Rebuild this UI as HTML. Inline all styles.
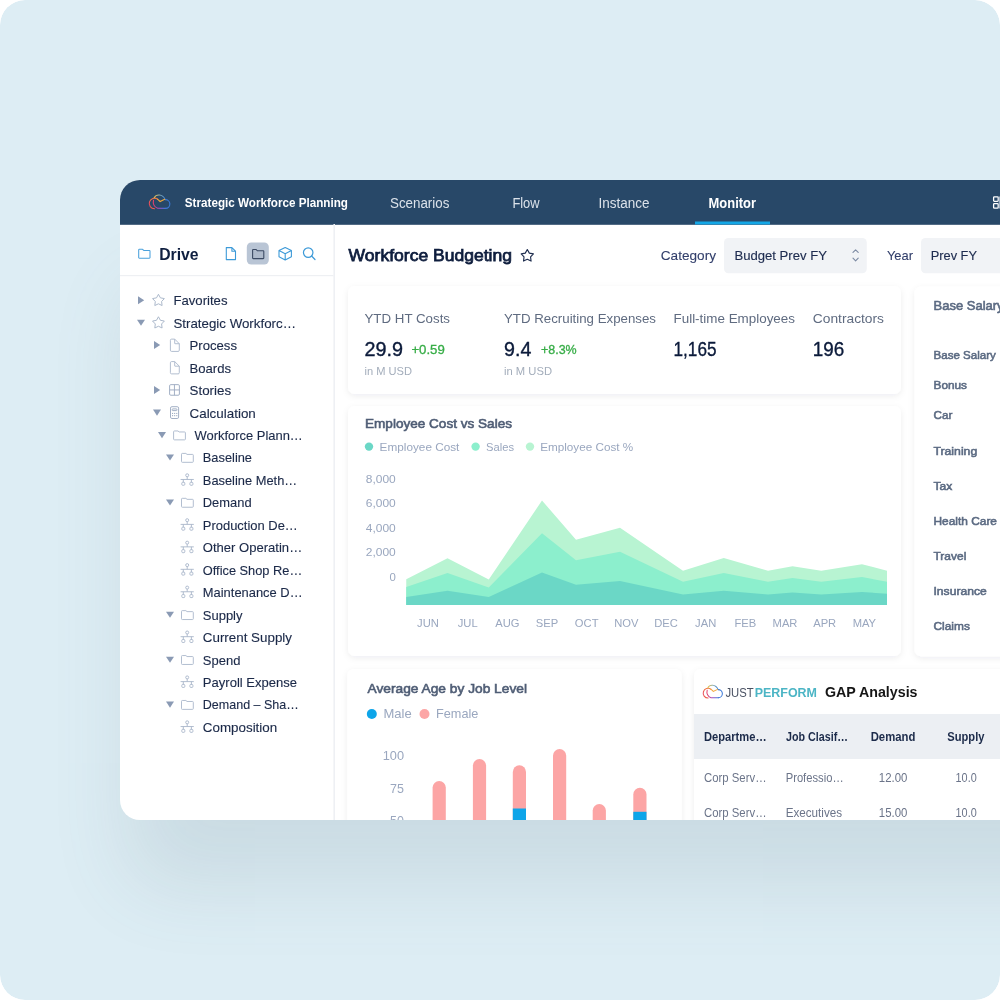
<!DOCTYPE html>
<html><head><meta charset="utf-8"><title>Workforce Budgeting</title>
<style>
html,body{margin:0;padding:0;background:#ffffff;width:1000px;height:1000px;overflow:hidden;}
svg{display:block;font-family:"Liberation Sans", Arial, sans-serif;will-change:transform;}
</style></head><body>
<svg width="1000" height="1000" viewBox="0 0 1000 1000">
<defs>
<clipPath id="cardclip"><rect x="120" y="180" width="1000" height="640" rx="20"/></clipPath>
<clipPath id="frameclip"><rect x="0" y="0" width="1000" height="1000" rx="25"/></clipPath>
<filter id="bigsh" x="-20%" y="-20%" width="140%" height="160%"><feGaussianBlur stdDeviation="40"/></filter>
<filter id="csh" x="-10%" y="-10%" width="120%" height="130%"><feDropShadow dx="0" dy="2" stdDeviation="3" flood-color="#202838" flood-opacity="0.07"/></filter>
<linearGradient id="lg1" x1="0" y1="0" x2="0" y2="1"><stop offset="0" stop-color="#f07a45"/><stop offset="0.5" stop-color="#e84a5f"/><stop offset="1" stop-color="#f0604a"/></linearGradient>
<linearGradient id="lg2" x1="0" y1="0" x2="1" y2="0"><stop offset="0" stop-color="#e8406a"/><stop offset="0.5" stop-color="#9b4fc4"/><stop offset="1" stop-color="#3a78d8"/></linearGradient>
<linearGradient id="lg3" x1="0" y1="0" x2="1" y2="0"><stop offset="0" stop-color="#e8c04a"/><stop offset="0.5" stop-color="#8fb0b0"/><stop offset="1" stop-color="#3a80d8"/></linearGradient>
</defs>
<g clip-path="url(#frameclip)">
<rect x="0" y="0" width="1000" height="1000" rx="25" fill="#ddedf4"/>
<rect x="128" y="285" width="1000" height="600" rx="30" fill="#566e7c" opacity="0.135" filter="url(#bigsh)"/>
<g clip-path="url(#cardclip)">
<rect x="120" y="180" width="1000" height="640" fill="#ffffff"/>
<rect x="335" y="224" width="700" height="600" fill="#ffffff"/>
<rect x="120" y="180" width="900" height="44.8" fill="#284868"/>
<g transform="translate(0,0) scale(1.0)" fill="none" stroke-width="1.1" stroke-linecap="round">
<path d="M157.51,199.15 A5.25,5.25 0 1 0 154.5,208.7" stroke="url(#lg1)"/>
<path d="M153.5,200.3 C152.6,203.6 154.2,207.2 157.6,208.3 L165.6,208.4" stroke="url(#lg2)"/>
<path d="M165.6,208.4 A4.4,4.4 0 0 0 165.3,199.6" stroke="#3a78d8"/>
<path d="M154.3,197.6 C156,194.1 162.6,193.4 165.3,199.6" stroke="url(#lg3)"/>
<path d="M157.51,199.15 L160.1,201.5 L164.7,199.3" stroke="#f2a83a"/>
</g>
<text x="184.8" y="206.8" font-size="13" fill="#ffffff" font-weight="700" textLength="163.2" lengthAdjust="spacingAndGlyphs">Strategic Workforce Planning</text>
<text x="390" y="208.2" font-size="13.8" fill="#dbe2ea" textLength="59.4" lengthAdjust="spacingAndGlyphs">Scenarios</text>
<text x="512.4" y="208.2" font-size="13.8" fill="#dbe2ea" textLength="27.2" lengthAdjust="spacingAndGlyphs">Flow</text>
<text x="598.4" y="208.2" font-size="13.8" fill="#dbe2ea" textLength="51" lengthAdjust="spacingAndGlyphs">Instance</text>
<text x="708.6" y="208.2" font-size="13.8" fill="#ffffff" font-weight="700" textLength="47.4" lengthAdjust="spacingAndGlyphs">Monitor</text>
<rect x="695" y="221.5" width="75" height="3" fill="#14a7e6"/>
<g fill="none" stroke="#ffffff" stroke-width="1.3"><rect x="993.6" y="196.8" width="4.6" height="4.6" rx="0.8"/><rect x="993.6" y="203.6" width="4.6" height="4.6" rx="0.8"/></g>
<rect x="998.8" y="196.5" width="1.2" height="12" fill="#9fb0c2"/>
<rect x="333.4" y="224" width="1.6" height="600" fill="#eef0f4"/>
<rect x="120" y="275" width="213.4" height="1.2" fill="#eef0f3"/>
<path d="M138.7,250 a0.7,0.7 0 0 1 0.7,-0.7 h3.2 l1.1,1.1 h5.6 a0.7,0.7 0 0 1 0.7,0.7 v6.4 a0.7,0.7 0 0 1 -0.7,0.7 h-9.9 a0.7,0.7 0 0 1 -0.7,-0.7 z" fill="none" stroke="#4aa1dc" stroke-width="1.05" stroke-linejoin="round"/>
<text x="159.2" y="259.9" font-size="15.6" fill="#0f1f40" font-weight="700" textLength="39.4" lengthAdjust="spacingAndGlyphs">Drive</text>
<path d="M226.3,247.6 h5.6 l3.6,3.6 v8.4 h-9.2 z M231.9,247.6 v3.6 h3.6" fill="none" stroke="#3d9ad8" stroke-width="1.1" stroke-linejoin="round"/>
<rect x="246.8" y="242.4" width="22" height="22.2" rx="4.5" fill="#b9c5d5"/>
<path d="M252.6,250.1 a0.6,0.6 0 0 1 0.6,-0.6 h3 l1.2,1.3 h5.8 a0.6,0.6 0 0 1 0.6,0.6 v6.6 a0.6,0.6 0 0 1 -0.6,0.6 h-10 a0.6,0.6 0 0 1 -0.6,-0.6 z" fill="#aebacb" stroke="#3b4a63" stroke-width="1.1" stroke-linejoin="round"/>
<g fill="none" stroke="#3d9ad8" stroke-width="1.1" stroke-linejoin="round"><path d="M285.2,247.5 l6.2,3.1 v6.2 l-6.2,3.1 l-6.2,-3.1 v-6.2 z M279,250.6 l6.2,3.1 l6.2,-3.1 M285.2,253.7 v6.2"/></g>
<g fill="none" stroke="#3d9ad8" stroke-width="1.2"><circle cx="308.2" cy="252.6" r="4.75"/><path d="M311.6,256 l3.4,3.5" stroke-linecap="round"/></g>
<path d="M138,296.2 L144.2,300.2 L138,304.2 z" fill="#8a9ab4"/>
<polygon points="158.45,294.30 160.39,297.83 164.35,298.58 161.59,301.52 162.09,305.52 158.45,303.80 154.81,305.52 155.31,301.52 152.55,298.58 156.51,297.83" fill="none" stroke="#a8b5c8" stroke-width="0.95" stroke-linejoin="round"/>
<text x="173.4" y="305.2" font-size="13" fill="#1b2948" stroke="#1b2948" stroke-width="0.12" textLength="54.1" lengthAdjust="spacingAndGlyphs">Favorites</text>
<path d="M137,319.76 L145,319.76 L141,325.85999999999996 z" fill="#8a9ab4"/>
<polygon points="158.45,316.76 160.39,320.29 164.35,321.04 161.59,323.98 162.09,327.98 158.45,326.26 154.81,327.98 155.31,323.98 152.55,321.04 156.51,320.29" fill="none" stroke="#a8b5c8" stroke-width="0.95" stroke-linejoin="round"/>
<text x="173.4" y="327.66" font-size="13" fill="#1b2948" stroke="#1b2948" stroke-width="0.12" textLength="122.6" lengthAdjust="spacingAndGlyphs">Strategic Workforc…</text>
<path d="M154,341.12 L160.2,345.12 L154,349.12 z" fill="#8a9ab4"/>
<path d="M171.6,339.12 h3.10 l4.6,4.6 v6.50 a1.2,1.2 0 0 1 -1.2,1.2 h-6.50 a1.2,1.2 0 0 1 -1.2,-1.2 v-9.90 a1.2,1.2 0 0 1 1.2,-1.2 z M174.70,339.12 v4.3 a0.3,0.3 0 0 0 0.3,0.3 h4.3" fill="none" stroke="#aebbcd" stroke-width="0.95" stroke-linejoin="round"/>
<text x="189.5" y="350.12" font-size="13" fill="#1b2948" stroke="#1b2948" stroke-width="0.12" textLength="47.5" lengthAdjust="spacingAndGlyphs">Process</text>
<path d="M171.6,361.58 h3.10 l4.6,4.6 v6.50 a1.2,1.2 0 0 1 -1.2,1.2 h-6.50 a1.2,1.2 0 0 1 -1.2,-1.2 v-9.90 a1.2,1.2 0 0 1 1.2,-1.2 z M174.70,361.58 v4.3 a0.3,0.3 0 0 0 0.3,0.3 h4.3" fill="none" stroke="#aebbcd" stroke-width="0.95" stroke-linejoin="round"/>
<text x="189.5" y="372.58" font-size="13" fill="#1b2948" stroke="#1b2948" stroke-width="0.12" textLength="41.6" lengthAdjust="spacingAndGlyphs">Boards</text>
<path d="M154,386.03999999999996 L160.2,390.03999999999996 L154,394.03999999999996 z" fill="#8a9ab4"/>
<g fill="none" stroke="#9eacc2" stroke-width="0.95"><rect x="169.6" y="384.64" width="9.8" height="10.6" rx="1.2"/><path d="M174.45,384.64 v10.6 M169.6,389.94 h9.8"/></g>
<text x="189.5" y="395.04" font-size="13" fill="#1b2948" stroke="#1b2948" stroke-width="0.12" textLength="41.6" lengthAdjust="spacingAndGlyphs">Stories</text>
<path d="M153,409.6 L161,409.6 L157,415.7 z" fill="#8a9ab4"/>
<g fill="none" stroke="#9eacc2" stroke-width="0.95"><rect x="170.5" y="406.7" width="8.1" height="11.8" rx="1.4"/><rect x="172.2" y="408.9" width="4.7" height="1.7" rx="0.4"/></g>
<rect x="172.00" y="412.90" width="1.1" height="1.1" fill="#9eacc2"/>
<rect x="174.10" y="412.90" width="1.1" height="1.1" fill="#9eacc2"/>
<rect x="176.20" y="412.90" width="1.1" height="1.1" fill="#9eacc2"/>
<rect x="172.00" y="415.10" width="1.1" height="1.1" fill="#9eacc2"/>
<rect x="174.10" y="415.10" width="1.1" height="1.1" fill="#9eacc2"/>
<rect x="176.20" y="415.10" width="1.1" height="1.1" fill="#9eacc2"/>
<text x="189.5" y="417.5" font-size="13" fill="#1b2948" stroke="#1b2948" stroke-width="0.12" textLength="66.3" lengthAdjust="spacingAndGlyphs">Calculation</text>
<path d="M158,432.06 L166,432.06 L162,438.15999999999997 z" fill="#8a9ab4"/>
<path d="M173.6,431.76 a0.8,0.8 0 0 1 0.8,-0.8 h3.6 l1.1,1 h5.5 a0.8,0.8 0 0 1 0.8,0.8 v6.3 a0.8,0.8 0 0 1 -0.8,0.8 h-10.2 a0.8,0.8 0 0 1 -0.8,-0.8 z" fill="none" stroke="#aebbcd" stroke-width="0.95" stroke-linejoin="round"/>
<text x="194.5" y="439.96" font-size="13" fill="#1b2948" stroke="#1b2948" stroke-width="0.12" textLength="108.3" lengthAdjust="spacingAndGlyphs">Workforce Plann…</text>
<path d="M166,454.52 L174,454.52 L170,460.61999999999995 z" fill="#8a9ab4"/>
<path d="M181.5,454.21999999999997 a0.8,0.8 0 0 1 0.8,-0.8 h3.6 l1.1,1 h5.5 a0.8,0.8 0 0 1 0.8,0.8 v6.3 a0.8,0.8 0 0 1 -0.8,0.8 h-10.2 a0.8,0.8 0 0 1 -0.8,-0.8 z" fill="none" stroke="#aebbcd" stroke-width="0.95" stroke-linejoin="round"/>
<text x="202.8" y="462.42" font-size="13" fill="#1b2948" stroke="#1b2948" stroke-width="0.12" textLength="49.2" lengthAdjust="spacingAndGlyphs">Baseline</text>
<g fill="none" stroke="#a8b5ca" stroke-width="0.9"><circle cx="187.2" cy="475.28" r="1.5"/><path d="M187.2,476.78 V479.48 M180.6,479.48 H193.79999999999998 M183.29999999999998,479.48 V482.28 M191.39999999999998,479.48 V482.28"/><rect x="181.80" y="482.28" width="3" height="3" rx="0.9"/><rect x="189.90" y="482.28" width="3" height="3" rx="0.9"/></g>
<text x="202.8" y="484.88" font-size="13" fill="#1b2948" stroke="#1b2948" stroke-width="0.12" textLength="94.4" lengthAdjust="spacingAndGlyphs">Baseline Meth…</text>
<path d="M166,499.44000000000005 L174,499.44000000000005 L170,505.54 z" fill="#8a9ab4"/>
<path d="M181.5,499.14000000000004 a0.8,0.8 0 0 1 0.8,-0.8 h3.6 l1.1,1 h5.5 a0.8,0.8 0 0 1 0.8,0.8 v6.3 a0.8,0.8 0 0 1 -0.8,0.8 h-10.2 a0.8,0.8 0 0 1 -0.8,-0.8 z" fill="none" stroke="#aebbcd" stroke-width="0.95" stroke-linejoin="round"/>
<text x="202.8" y="507.34" font-size="13" fill="#1b2948" stroke="#1b2948" stroke-width="0.12" textLength="48.8" lengthAdjust="spacingAndGlyphs">Demand</text>
<g fill="none" stroke="#a8b5ca" stroke-width="0.9"><circle cx="187.2" cy="520.20" r="1.5"/><path d="M187.2,521.70 V524.40 M180.6,524.40 H193.79999999999998 M183.29999999999998,524.40 V527.20 M191.39999999999998,524.40 V527.20"/><rect x="181.80" y="527.20" width="3" height="3" rx="0.9"/><rect x="189.90" y="527.20" width="3" height="3" rx="0.9"/></g>
<text x="202.8" y="529.8" font-size="13" fill="#1b2948" stroke="#1b2948" stroke-width="0.12" textLength="95.0" lengthAdjust="spacingAndGlyphs">Production De…</text>
<g fill="none" stroke="#a8b5ca" stroke-width="0.9"><circle cx="187.2" cy="542.66" r="1.5"/><path d="M187.2,544.16 V546.86 M180.6,546.86 H193.79999999999998 M183.29999999999998,546.86 V549.66 M191.39999999999998,546.86 V549.66"/><rect x="181.80" y="549.66" width="3" height="3" rx="0.9"/><rect x="189.90" y="549.66" width="3" height="3" rx="0.9"/></g>
<text x="202.8" y="552.26" font-size="13" fill="#1b2948" stroke="#1b2948" stroke-width="0.12" textLength="99.4" lengthAdjust="spacingAndGlyphs">Other Operatin…</text>
<g fill="none" stroke="#a8b5ca" stroke-width="0.9"><circle cx="187.2" cy="565.12" r="1.5"/><path d="M187.2,566.62 V569.32 M180.6,569.32 H193.79999999999998 M183.29999999999998,569.32 V572.12 M191.39999999999998,569.32 V572.12"/><rect x="181.80" y="572.12" width="3" height="3" rx="0.9"/><rect x="189.90" y="572.12" width="3" height="3" rx="0.9"/></g>
<text x="202.8" y="574.72" font-size="13" fill="#1b2948" stroke="#1b2948" stroke-width="0.12" textLength="99.4" lengthAdjust="spacingAndGlyphs">Office Shop Re…</text>
<g fill="none" stroke="#a8b5ca" stroke-width="0.9"><circle cx="187.2" cy="587.58" r="1.5"/><path d="M187.2,589.08 V591.78 M180.6,591.78 H193.79999999999998 M183.29999999999998,591.78 V594.58 M191.39999999999998,591.78 V594.58"/><rect x="181.80" y="594.58" width="3" height="3" rx="0.9"/><rect x="189.90" y="594.58" width="3" height="3" rx="0.9"/></g>
<text x="202.8" y="597.18" font-size="13" fill="#1b2948" stroke="#1b2948" stroke-width="0.12" textLength="99.8" lengthAdjust="spacingAndGlyphs">Maintenance D…</text>
<path d="M166,611.74 L174,611.74 L170,617.84 z" fill="#8a9ab4"/>
<path d="M181.5,611.4399999999999 a0.8,0.8 0 0 1 0.8,-0.8 h3.6 l1.1,1 h5.5 a0.8,0.8 0 0 1 0.8,0.8 v6.3 a0.8,0.8 0 0 1 -0.8,0.8 h-10.2 a0.8,0.8 0 0 1 -0.8,-0.8 z" fill="none" stroke="#aebbcd" stroke-width="0.95" stroke-linejoin="round"/>
<text x="202.8" y="619.64" font-size="13" fill="#1b2948" stroke="#1b2948" stroke-width="0.12" textLength="39.7" lengthAdjust="spacingAndGlyphs">Supply</text>
<g fill="none" stroke="#a8b5ca" stroke-width="0.9"><circle cx="187.2" cy="632.50" r="1.5"/><path d="M187.2,634.00 V636.70 M180.6,636.70 H193.79999999999998 M183.29999999999998,636.70 V639.50 M191.39999999999998,636.70 V639.50"/><rect x="181.80" y="639.50" width="3" height="3" rx="0.9"/><rect x="189.90" y="639.50" width="3" height="3" rx="0.9"/></g>
<text x="202.8" y="642.1" font-size="13" fill="#1b2948" stroke="#1b2948" stroke-width="0.12" textLength="89.2" lengthAdjust="spacingAndGlyphs">Current Supply</text>
<path d="M166,656.66 L174,656.66 L170,662.76 z" fill="#8a9ab4"/>
<path d="M181.5,656.3599999999999 a0.8,0.8 0 0 1 0.8,-0.8 h3.6 l1.1,1 h5.5 a0.8,0.8 0 0 1 0.8,0.8 v6.3 a0.8,0.8 0 0 1 -0.8,0.8 h-10.2 a0.8,0.8 0 0 1 -0.8,-0.8 z" fill="none" stroke="#aebbcd" stroke-width="0.95" stroke-linejoin="round"/>
<text x="202.8" y="664.56" font-size="13" fill="#1b2948" stroke="#1b2948" stroke-width="0.12" textLength="37.6" lengthAdjust="spacingAndGlyphs">Spend</text>
<g fill="none" stroke="#a8b5ca" stroke-width="0.9"><circle cx="187.2" cy="677.42" r="1.5"/><path d="M187.2,678.92 V681.62 M180.6,681.62 H193.79999999999998 M183.29999999999998,681.62 V684.42 M191.39999999999998,681.62 V684.42"/><rect x="181.80" y="684.42" width="3" height="3" rx="0.9"/><rect x="189.90" y="684.42" width="3" height="3" rx="0.9"/></g>
<text x="202.8" y="687.02" font-size="13" fill="#1b2948" stroke="#1b2948" stroke-width="0.12" textLength="94.3" lengthAdjust="spacingAndGlyphs">Payroll Expense</text>
<path d="M166,701.58 L174,701.58 L170,707.6800000000001 z" fill="#8a9ab4"/>
<path d="M181.5,701.28 a0.8,0.8 0 0 1 0.8,-0.8 h3.6 l1.1,1 h5.5 a0.8,0.8 0 0 1 0.8,0.8 v6.3 a0.8,0.8 0 0 1 -0.8,0.8 h-10.2 a0.8,0.8 0 0 1 -0.8,-0.8 z" fill="none" stroke="#aebbcd" stroke-width="0.95" stroke-linejoin="round"/>
<text x="202.8" y="709.48" font-size="13" fill="#1b2948" stroke="#1b2948" stroke-width="0.12" textLength="96.0" lengthAdjust="spacingAndGlyphs">Demand – Sha…</text>
<g fill="none" stroke="#a8b5ca" stroke-width="0.9"><circle cx="187.2" cy="722.34" r="1.5"/><path d="M187.2,723.84 V726.54 M180.6,726.54 H193.79999999999998 M183.29999999999998,726.54 V729.34 M191.39999999999998,726.54 V729.34"/><rect x="181.80" y="729.34" width="3" height="3" rx="0.9"/><rect x="189.90" y="729.34" width="3" height="3" rx="0.9"/></g>
<text x="202.8" y="731.94" font-size="13" fill="#1b2948" stroke="#1b2948" stroke-width="0.12" textLength="74.4" lengthAdjust="spacingAndGlyphs">Composition</text>
<text x="348.6" y="261.4" font-size="16.5" fill="#0e1d3d" stroke="#0e1d3d" stroke-width="0.75" textLength="163.4" lengthAdjust="spacingAndGlyphs">Workforce Budgeting</text>
<polygon points="527.30,249.50 529.33,253.11 533.39,253.92 530.58,256.97 531.06,261.08 527.30,259.35 523.54,261.08 524.02,256.97 521.21,253.92 525.27,253.11" fill="none" stroke="#1f2e4f" stroke-width="1.15" stroke-linejoin="round"/>
<text x="660.8" y="260" font-size="13.5" fill="#323f6b" stroke="#323f6b" stroke-width="0.1" textLength="55.2" lengthAdjust="spacingAndGlyphs">Category</text>
<rect x="724" y="238" width="142.8" height="35.2" rx="4.5" fill="#f1f3f6"/>
<text x="734.4" y="260" font-size="13.5" fill="#1d2b4f" stroke="#1d2b4f" stroke-width="0.15" textLength="92.6" lengthAdjust="spacingAndGlyphs">Budget Prev FY</text>
<path d="M853,252.4 l2.6,-2.6 l2.6,2.6 M853,258.2 l2.6,2.6 l2.6,-2.6" fill="none" stroke="#7c8aa3" stroke-width="1.1" stroke-linecap="round" stroke-linejoin="round"/>
<text x="886.9" y="259.7" font-size="13.5" fill="#323f6b" stroke="#323f6b" stroke-width="0.1" textLength="26.1" lengthAdjust="spacingAndGlyphs">Year</text>
<rect x="921" y="238" width="120" height="35.2" rx="4.5" fill="#f1f3f6"/>
<text x="930.7" y="260" font-size="13.5" fill="#1d2b4f" stroke="#1d2b4f" stroke-width="0.15" textLength="46.3" lengthAdjust="spacingAndGlyphs">Prev FY</text>
<rect x="348" y="286" width="553" height="108" rx="7" fill="#ffffff" filter="url(#csh)"/>
<rect x="914.4" y="286.4" width="200" height="370" rx="7" fill="#ffffff" filter="url(#csh)"/>
<rect x="348" y="406" width="553" height="250" rx="7" fill="#ffffff" filter="url(#csh)"/>
<rect x="347.2" y="669" width="334.6" height="200" rx="7" fill="#ffffff" filter="url(#csh)"/>
<rect x="694" y="669" width="400" height="200" rx="7" fill="#ffffff" filter="url(#csh)"/>
<text x="364.5" y="323.2" font-size="13.5" fill="#5f6b80" textLength="85.5" lengthAdjust="spacingAndGlyphs">YTD HT Costs</text>
<text x="504" y="323.2" font-size="13.5" fill="#5f6b80" textLength="152" lengthAdjust="spacingAndGlyphs">YTD Recruiting Expenses</text>
<text x="673.5" y="323.2" font-size="13.5" fill="#5f6b80" textLength="121.5" lengthAdjust="spacingAndGlyphs">Full-time Employees</text>
<text x="812.8" y="323.2" font-size="13.5" fill="#5f6b80" textLength="71.2" lengthAdjust="spacingAndGlyphs">Contractors</text>
<text x="364.5" y="356.1" font-size="19.5" fill="#0b1a3a" stroke="#0b1a3a" stroke-width="0.35" textLength="38.5" lengthAdjust="spacingAndGlyphs">29.9</text>
<text x="411.4" y="354.4" font-size="12.3" fill="#37ad47" stroke="#37ad47" stroke-width="0.3" textLength="33.4" lengthAdjust="spacingAndGlyphs">+0.59</text>
<text x="504" y="356.1" font-size="19.5" fill="#0b1a3a" stroke="#0b1a3a" stroke-width="0.35" textLength="27.3" lengthAdjust="spacingAndGlyphs">9.4</text>
<text x="541" y="354.4" font-size="12.3" fill="#37ad47" stroke="#37ad47" stroke-width="0.3" textLength="35.7" lengthAdjust="spacingAndGlyphs">+8.3%</text>
<text x="673.5" y="356.1" font-size="19.5" fill="#0b1a3a" stroke="#0b1a3a" stroke-width="0.35" textLength="43" lengthAdjust="spacingAndGlyphs">1,165</text>
<text x="812.8" y="356.1" font-size="19.5" fill="#0b1a3a" stroke="#0b1a3a" stroke-width="0.35" textLength="31.5" lengthAdjust="spacingAndGlyphs">196</text>
<text x="364.5" y="375" font-size="11" fill="#a3adbb" textLength="47.5" lengthAdjust="spacingAndGlyphs">in M USD</text>
<text x="504" y="375" font-size="11" fill="#a3adbb" textLength="48" lengthAdjust="spacingAndGlyphs">in M USD</text>
<text x="933.6" y="309.6" font-size="13" fill="#5b6a82" stroke="#5b6a82" stroke-width="0.6" textLength="70" lengthAdjust="spacingAndGlyphs">Base Salary</text>
<text x="933.5" y="358.6" font-size="11.2" fill="#5b6a82" stroke="#5b6a82" stroke-width="0.55" textLength="62.4" lengthAdjust="spacingAndGlyphs">Base Salary</text>
<text x="933.5" y="389.2" font-size="11.2" fill="#5b6a82" stroke="#5b6a82" stroke-width="0.55" textLength="33.5" lengthAdjust="spacingAndGlyphs">Bonus</text>
<text x="933.5" y="419.3" font-size="11.2" fill="#5b6a82" stroke="#5b6a82" stroke-width="0.55" textLength="18.8" lengthAdjust="spacingAndGlyphs">Car</text>
<text x="933.5" y="455" font-size="11.2" fill="#5b6a82" stroke="#5b6a82" stroke-width="0.55" textLength="43.7" lengthAdjust="spacingAndGlyphs">Training</text>
<text x="933.5" y="489.9" font-size="11.2" fill="#5b6a82" stroke="#5b6a82" stroke-width="0.55" textLength="18.8" lengthAdjust="spacingAndGlyphs">Tax</text>
<text x="933.5" y="525" font-size="11.2" fill="#5b6a82" stroke="#5b6a82" stroke-width="0.55" textLength="63.5" lengthAdjust="spacingAndGlyphs">Health Care</text>
<text x="933.5" y="560" font-size="11.2" fill="#5b6a82" stroke="#5b6a82" stroke-width="0.55" textLength="32.8" lengthAdjust="spacingAndGlyphs">Travel</text>
<text x="933.5" y="595" font-size="11.2" fill="#5b6a82" stroke="#5b6a82" stroke-width="0.55" textLength="53.2" lengthAdjust="spacingAndGlyphs">Insurance</text>
<text x="933.5" y="630" font-size="11.2" fill="#5b6a82" stroke="#5b6a82" stroke-width="0.55" textLength="36.4" lengthAdjust="spacingAndGlyphs">Claims</text>
<text x="365" y="428.1" font-size="13.4" fill="#4f5d75" stroke="#4f5d75" stroke-width="0.6" textLength="147" lengthAdjust="spacingAndGlyphs">Employee Cost vs Sales</text>
<circle cx="369" cy="446.6" r="4.2" fill="#6bd7c6"/>
<text x="379.6" y="451" font-size="11.5" fill="#9aa7bf" textLength="79.8" lengthAdjust="spacingAndGlyphs">Employee Cost</text>
<circle cx="475.6" cy="446.6" r="4.2" fill="#8cefcd"/>
<text x="486" y="451" font-size="11.5" fill="#9aa7bf" textLength="28" lengthAdjust="spacingAndGlyphs">Sales</text>
<circle cx="530" cy="446.6" r="4.2" fill="#b8f4d2"/>
<text x="540.2" y="451" font-size="11.5" fill="#9aa7bf" textLength="93" lengthAdjust="spacingAndGlyphs">Employee Cost %</text>
<text x="395.8" y="482.5" font-size="11.4" fill="#9aa7bf" textLength="30" lengthAdjust="spacingAndGlyphs" text-anchor="end">8,000</text>
<text x="395.8" y="506.8" font-size="11.4" fill="#9aa7bf" textLength="30" lengthAdjust="spacingAndGlyphs" text-anchor="end">6,000</text>
<text x="395.8" y="531.6" font-size="11.4" fill="#9aa7bf" textLength="30" lengthAdjust="spacingAndGlyphs" text-anchor="end">4,000</text>
<text x="395.8" y="556.3" font-size="11.4" fill="#9aa7bf" textLength="30" lengthAdjust="spacingAndGlyphs" text-anchor="end">2,000</text>
<text x="395.8" y="580.5" font-size="11.4" fill="#9aa7bf" text-anchor="end">0</text>
<polygon points="406.25,605 406.25,579.25 447.5,558.25 488.75,579.5 542,500.6 576,539.8 620,527.8 683,570.75 723.75,558 768,570.75 792.5,566.25 821.25,570.75 862,564.25 887,570.75 887,605" fill="#b8f4d2"/>
<polygon points="406.25,605 406.25,587 447.5,573 488.75,587.5 542,533.2 576,560.2 620,551.8 683,581.75 723.75,573 768,581.75 792.5,578 821.25,581.75 862,577 887,581.75 887,605" fill="#8cefcd"/>
<polygon points="406.25,605 406.25,597 447.5,590.75 488.75,597 542,572.6 576,584.8 620,581 683,594.5 723.75,590.75 768,594.5 792.5,592.5 821.25,594.5 862,592 887,593.75 887,605" fill="#6bd7c6"/>
<text x="428.0" y="627" font-size="11.2" fill="#9aa7bf" text-anchor="middle">JUN</text>
<text x="467.67" y="627" font-size="11.2" fill="#9aa7bf" text-anchor="middle">JUL</text>
<text x="507.34" y="627" font-size="11.2" fill="#9aa7bf" text-anchor="middle">AUG</text>
<text x="547.01" y="627" font-size="11.2" fill="#9aa7bf" text-anchor="middle">SEP</text>
<text x="586.68" y="627" font-size="11.2" fill="#9aa7bf" text-anchor="middle">OCT</text>
<text x="626.35" y="627" font-size="11.2" fill="#9aa7bf" text-anchor="middle">NOV</text>
<text x="666.02" y="627" font-size="11.2" fill="#9aa7bf" text-anchor="middle">DEC</text>
<text x="705.69" y="627" font-size="11.2" fill="#9aa7bf" text-anchor="middle">JAN</text>
<text x="745.36" y="627" font-size="11.2" fill="#9aa7bf" text-anchor="middle">FEB</text>
<text x="785.03" y="627" font-size="11.2" fill="#9aa7bf" text-anchor="middle">MAR</text>
<text x="824.7" y="627" font-size="11.2" fill="#9aa7bf" text-anchor="middle">APR</text>
<text x="864.37" y="627" font-size="11.2" fill="#9aa7bf" text-anchor="middle">MAY</text>
<text x="367.5" y="692.9" font-size="13.4" fill="#4f5d75" stroke="#4f5d75" stroke-width="0.6" textLength="159.5" lengthAdjust="spacingAndGlyphs">Average Age by Job Level</text>
<circle cx="371.8" cy="714" r="5" fill="#0ea5e9"/>
<text x="383.5" y="718" font-size="13" fill="#9aa7bf" textLength="28.2" lengthAdjust="spacingAndGlyphs">Male</text>
<circle cx="424.5" cy="714" r="5" fill="#fca5a5"/>
<text x="436" y="718" font-size="13" fill="#9aa7bf" textLength="42.4" lengthAdjust="spacingAndGlyphs">Female</text>
<text x="404" y="759.9" font-size="12.7" fill="#9aa7bf" textLength="21.3" lengthAdjust="spacingAndGlyphs" text-anchor="end">100</text>
<text x="404" y="792.5" font-size="12.7" fill="#9aa7bf" textLength="13.9" lengthAdjust="spacingAndGlyphs" text-anchor="end">75</text>
<text x="404" y="824.6" font-size="12.7" fill="#9aa7bf" textLength="13.9" lengthAdjust="spacingAndGlyphs" text-anchor="end">50</text>
<rect x="432.6" y="781" width="13.2" height="80" rx="6.6" fill="#fca5a5"/>
<rect x="472.9" y="759" width="13.2" height="80" rx="6.6" fill="#fca5a5"/>
<rect x="512.8" y="765.3" width="13.2" height="80" rx="6.6" fill="#fca5a5"/>
<rect x="512.8" y="808.5" width="13.2" height="20" fill="#0ea5e9"/>
<rect x="553" y="749.1" width="13.2" height="80" rx="6.6" fill="#fca5a5"/>
<rect x="592.7" y="804" width="13.2" height="80" rx="6.6" fill="#fca5a5"/>
<rect x="633.3" y="787.8" width="13.2" height="80" rx="6.6" fill="#fca5a5"/>
<rect x="633.3" y="811.8" width="13.2" height="20" fill="#0ea5e9"/>
<g transform="translate(564.4,504.0) scale(0.93)" fill="none" stroke-width="1.1" stroke-linecap="round">
<path d="M157.51,199.15 A5.25,5.25 0 1 0 154.5,208.7" stroke="url(#lg1)"/>
<path d="M153.5,200.3 C152.6,203.6 154.2,207.2 157.6,208.3 L165.6,208.4" stroke="url(#lg2)"/>
<path d="M165.6,208.4 A4.4,4.4 0 0 0 165.3,199.6" stroke="#3a78d8"/>
<path d="M154.3,197.6 C156,194.1 162.6,193.4 165.3,199.6" stroke="url(#lg3)"/>
<path d="M157.51,199.15 L160.1,201.5 L164.7,199.3" stroke="#f2a83a"/>
</g>
<text x="725.4" y="696.5" font-size="13.4" fill="#4a5263" textLength="28.2" lengthAdjust="spacingAndGlyphs">JUST</text>
<text x="754.7" y="696.5" font-size="13.4" fill="#4cb5c5" font-weight="700" textLength="62.3" lengthAdjust="spacingAndGlyphs">PERFORM</text>
<text x="825" y="696.5" font-size="14.2" fill="#151515" font-weight="700" textLength="92.5" lengthAdjust="spacingAndGlyphs">GAP Analysis</text>
<rect x="694" y="714" width="320" height="45" fill="#eceff3"/>
<text x="704" y="741.2" font-size="12.2" fill="#1c2b4a" font-weight="700" textLength="62.6" lengthAdjust="spacingAndGlyphs">Departme…</text>
<text x="786" y="741.2" font-size="12.2" fill="#1c2b4a" font-weight="700" textLength="62" lengthAdjust="spacingAndGlyphs">Job Clasif…</text>
<text x="870.7" y="741.2" font-size="12.2" fill="#1c2b4a" font-weight="700" textLength="44.7" lengthAdjust="spacingAndGlyphs">Demand</text>
<text x="947.3" y="741.2" font-size="12.2" fill="#1c2b4a" font-weight="700" textLength="37.2" lengthAdjust="spacingAndGlyphs">Supply</text>
<text x="704" y="782.1" font-size="12.2" fill="#6b7489" textLength="62.5" lengthAdjust="spacingAndGlyphs">Corp Serv…</text>
<text x="785.7" y="782.1" font-size="12.2" fill="#6b7489" textLength="57.9" lengthAdjust="spacingAndGlyphs">Professio…</text>
<text x="878.8" y="782.1" font-size="12.2" fill="#6b7489" textLength="28.5" lengthAdjust="spacingAndGlyphs">12.00</text>
<text x="955.6" y="782.1" font-size="12.2" fill="#6b7489" textLength="21.1" lengthAdjust="spacingAndGlyphs">10.0</text>
<text x="704" y="817" font-size="12.2" fill="#6b7489" textLength="62.5" lengthAdjust="spacingAndGlyphs">Corp Serv…</text>
<text x="785.7" y="817" font-size="12.2" fill="#6b7489" textLength="56.4" lengthAdjust="spacingAndGlyphs">Executives</text>
<text x="878.8" y="817" font-size="12.2" fill="#6b7489" textLength="28.5" lengthAdjust="spacingAndGlyphs">15.00</text>
<text x="955.6" y="817" font-size="12.2" fill="#6b7489" textLength="21.1" lengthAdjust="spacingAndGlyphs">10.0</text>
</g>
</g>
</svg>
</body></html>
